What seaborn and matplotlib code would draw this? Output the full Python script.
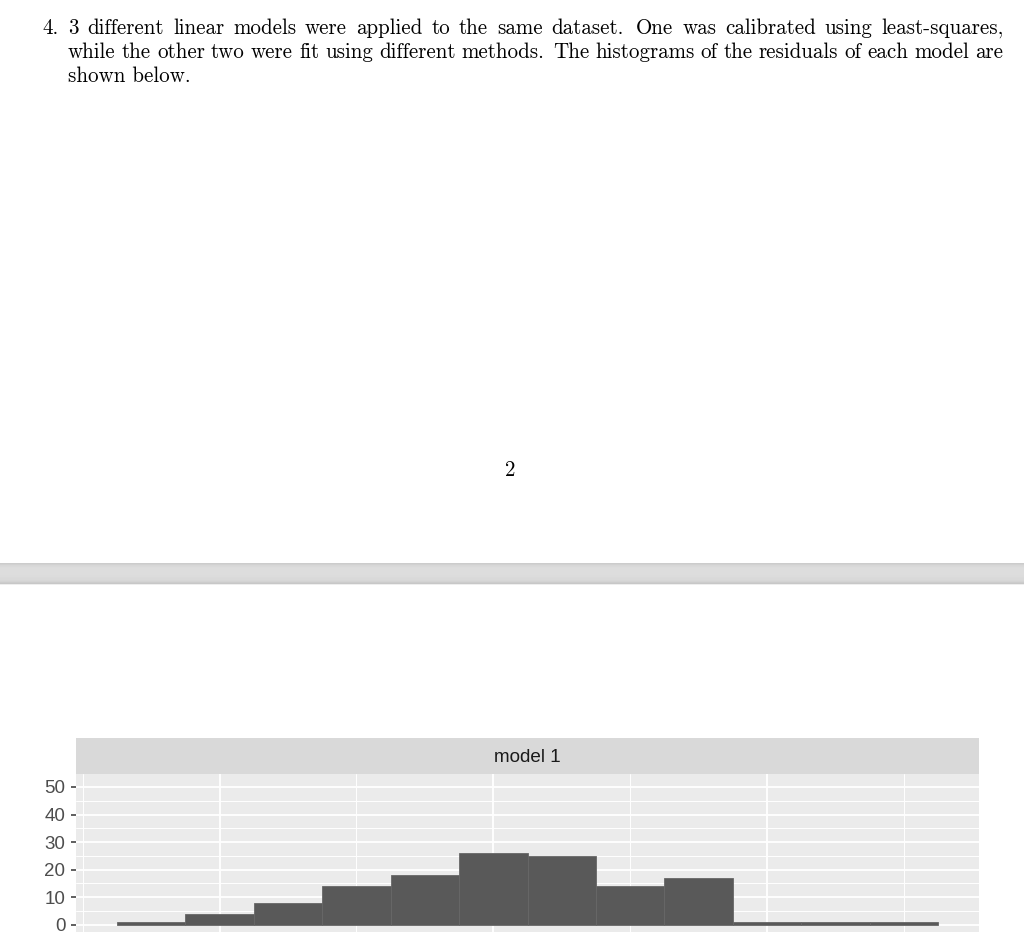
import numpy as np
import pandas as pd
import matplotlib
matplotlib.use("Agg")
import matplotlib.pyplot as plt
import seaborn as sns
from matplotlib.ticker import FixedLocator

# ---------------- data ----------------
residual_bins = [-12.5, -10.0, -7.5, -5.0, -2.5, 0.0, 2.5, 5.0, 7.5, 10.0, 12.5, 15.0]
counts = [1, 4, 8, 14, 18, 26, 25, 14, 17, 1, 1, 1]
bin_width = 2.5
model_name = "model 1"
y_ticks = [0, 10, 20, 30, 40, 50]
y_tick_labels = ["0", "10", "20", "30", "40", "50"]
y_minor = [5, 15, 25, 35, 45]
x_ticks = [-10, 0, 10]
x_minor = [-15, -5, 5, 15]
item_label = "4."
line1 = "3 different linear models were applied to the same dataset. One was calibrated using least-squares,"
line2 = "while the other two were fit using different methods. The histograms of the residuals of each model are"
line3 = "shown below."
page_number = "2"

# ---------------- figure ----------------
W, H = 1024, 940
sns.set_theme(style="darkgrid")
plt.rcParams["font.family"] = ["Liberation Sans", "DejaVu Sans"]

fig = plt.figure(figsize=(W / 100, H / 100), dpi=100)
fig.patch.set_facecolor("white")


def fx(px):
    return px / W


def fy(py):
    return 1 - py / H


# ---- document text (LaTeX-like) ----
serif = ["cmr10", "DejaVu Serif"]
fs = 15.1
renderer = fig.canvas.get_renderer()


def justify(text, x0, x1, y):
    words = text.split(" ")
    arts = []
    widths = []
    for w in words:
        t = fig.text(0, fy(y), w, fontsize=fs, family=serif, va="baseline", ha="left", color="black")
        arts.append(t)
        widths.append(t.get_window_extent(renderer).width)
    weights = [1.35 if words[i].endswith(".") else 1.0 for i in range(len(words) - 1)]
    gap_unit = ((x1 - x0) - sum(widths)) / sum(weights)
    x = x0
    for i, t in enumerate(arts):
        t.set_x(fx(x))
        if i < len(weights):
            x += widths[i] + gap_unit * weights[i]


fig.text(fx(42), fy(34), item_label, fontsize=fs, family=serif, va="baseline", ha="left", color="black")
justify(line1, 68, 1004, 34)
justify(line2, 68, 1003, 58)
fig.text(fx(68), fy(82), line3, fontsize=fs, family=serif, va="baseline", ha="left", color="black")
fig.text(fx(510), fy(476), page_number, fontsize=fs, family=serif, va="baseline", ha="center", color="black")

# ---- page separator bar ----
sep_ax = fig.add_axes([0, fy(585), 1, fy(563) - fy(585)])
grad = np.array([0.91, 0.80, 0.82, 0.84, 0.85, 0.86, 0.865, 0.865, 0.865, 0.865, 0.865,
                 0.865, 0.86, 0.86, 0.855, 0.85, 0.85, 0.84, 0.83, 0.80, 0.78, 0.93]).reshape(-1, 1)
sep_ax.imshow(grad, cmap="gray", vmin=0, vmax=1, aspect="auto", interpolation="nearest")
sep_ax.set_axis_off()

# ---- facet strip ----
strip_ax = fig.add_axes([fx(76), fy(774), fx(979) - fx(76), fy(738) - fy(774)])
strip_ax.set_facecolor("#D9D9D9")
strip_ax.set_xticks([])
strip_ax.set_yticks([])
strip_ax.grid(False)
for s in strip_ax.spines.values():
    s.set_visible(False)
strip_ax.text(0.5, 0.47, model_name, transform=strip_ax.transAxes, ha="center", va="center",
              fontsize=13.6, color="#1A1A1A")

# ---- histogram panel ----
ax = fig.add_axes([fx(76), fy(932), fx(979) - fx(76), fy(774) - fy(932)])
df = pd.DataFrame({"residual": residual_bins, "count": counts})
lo = min(residual_bins) - bin_width / 2
hi = max(residual_bins) + bin_width / 2
sns.histplot(data=df, x="residual", weights="count", binwidth=bin_width, binrange=(lo, hi),
             color="#595959", alpha=1, edgecolor="#676767", linewidth=0.6, ax=ax)

span = hi - lo
ax.set_xlim(lo - 0.05 * span, hi + 0.05 * span)
ax.set_ylim(-2.6, 54.7)
ax.set_facecolor("#EBEBEB")
ax.xaxis.set_major_locator(FixedLocator(x_ticks))
ax.xaxis.set_minor_locator(FixedLocator(x_minor))
ax.yaxis.set_major_locator(FixedLocator(y_ticks))
ax.yaxis.set_minor_locator(FixedLocator(y_minor))
ax.set_yticklabels(y_tick_labels)
ax.grid(which="major", color="white", linewidth=1.3)
ax.grid(which="minor", color="white", linewidth=0.7)
ax.set_axisbelow(True)
for s in ax.spines.values():
    s.set_visible(False)
ax.tick_params(axis="y", which="major", length=3.6, width=1.1, color="#333333", pad=4.0,
               labelsize=13.5, labelcolor="#4D4D4D", left=True)
ax.tick_params(axis="x", which="major", bottom=False, labelbottom=False)
ax.tick_params(which="minor", length=0)
ax.set_xlabel("")
ax.set_ylabel("")

fig.savefig("out.png", dpi=100, facecolor="white")
